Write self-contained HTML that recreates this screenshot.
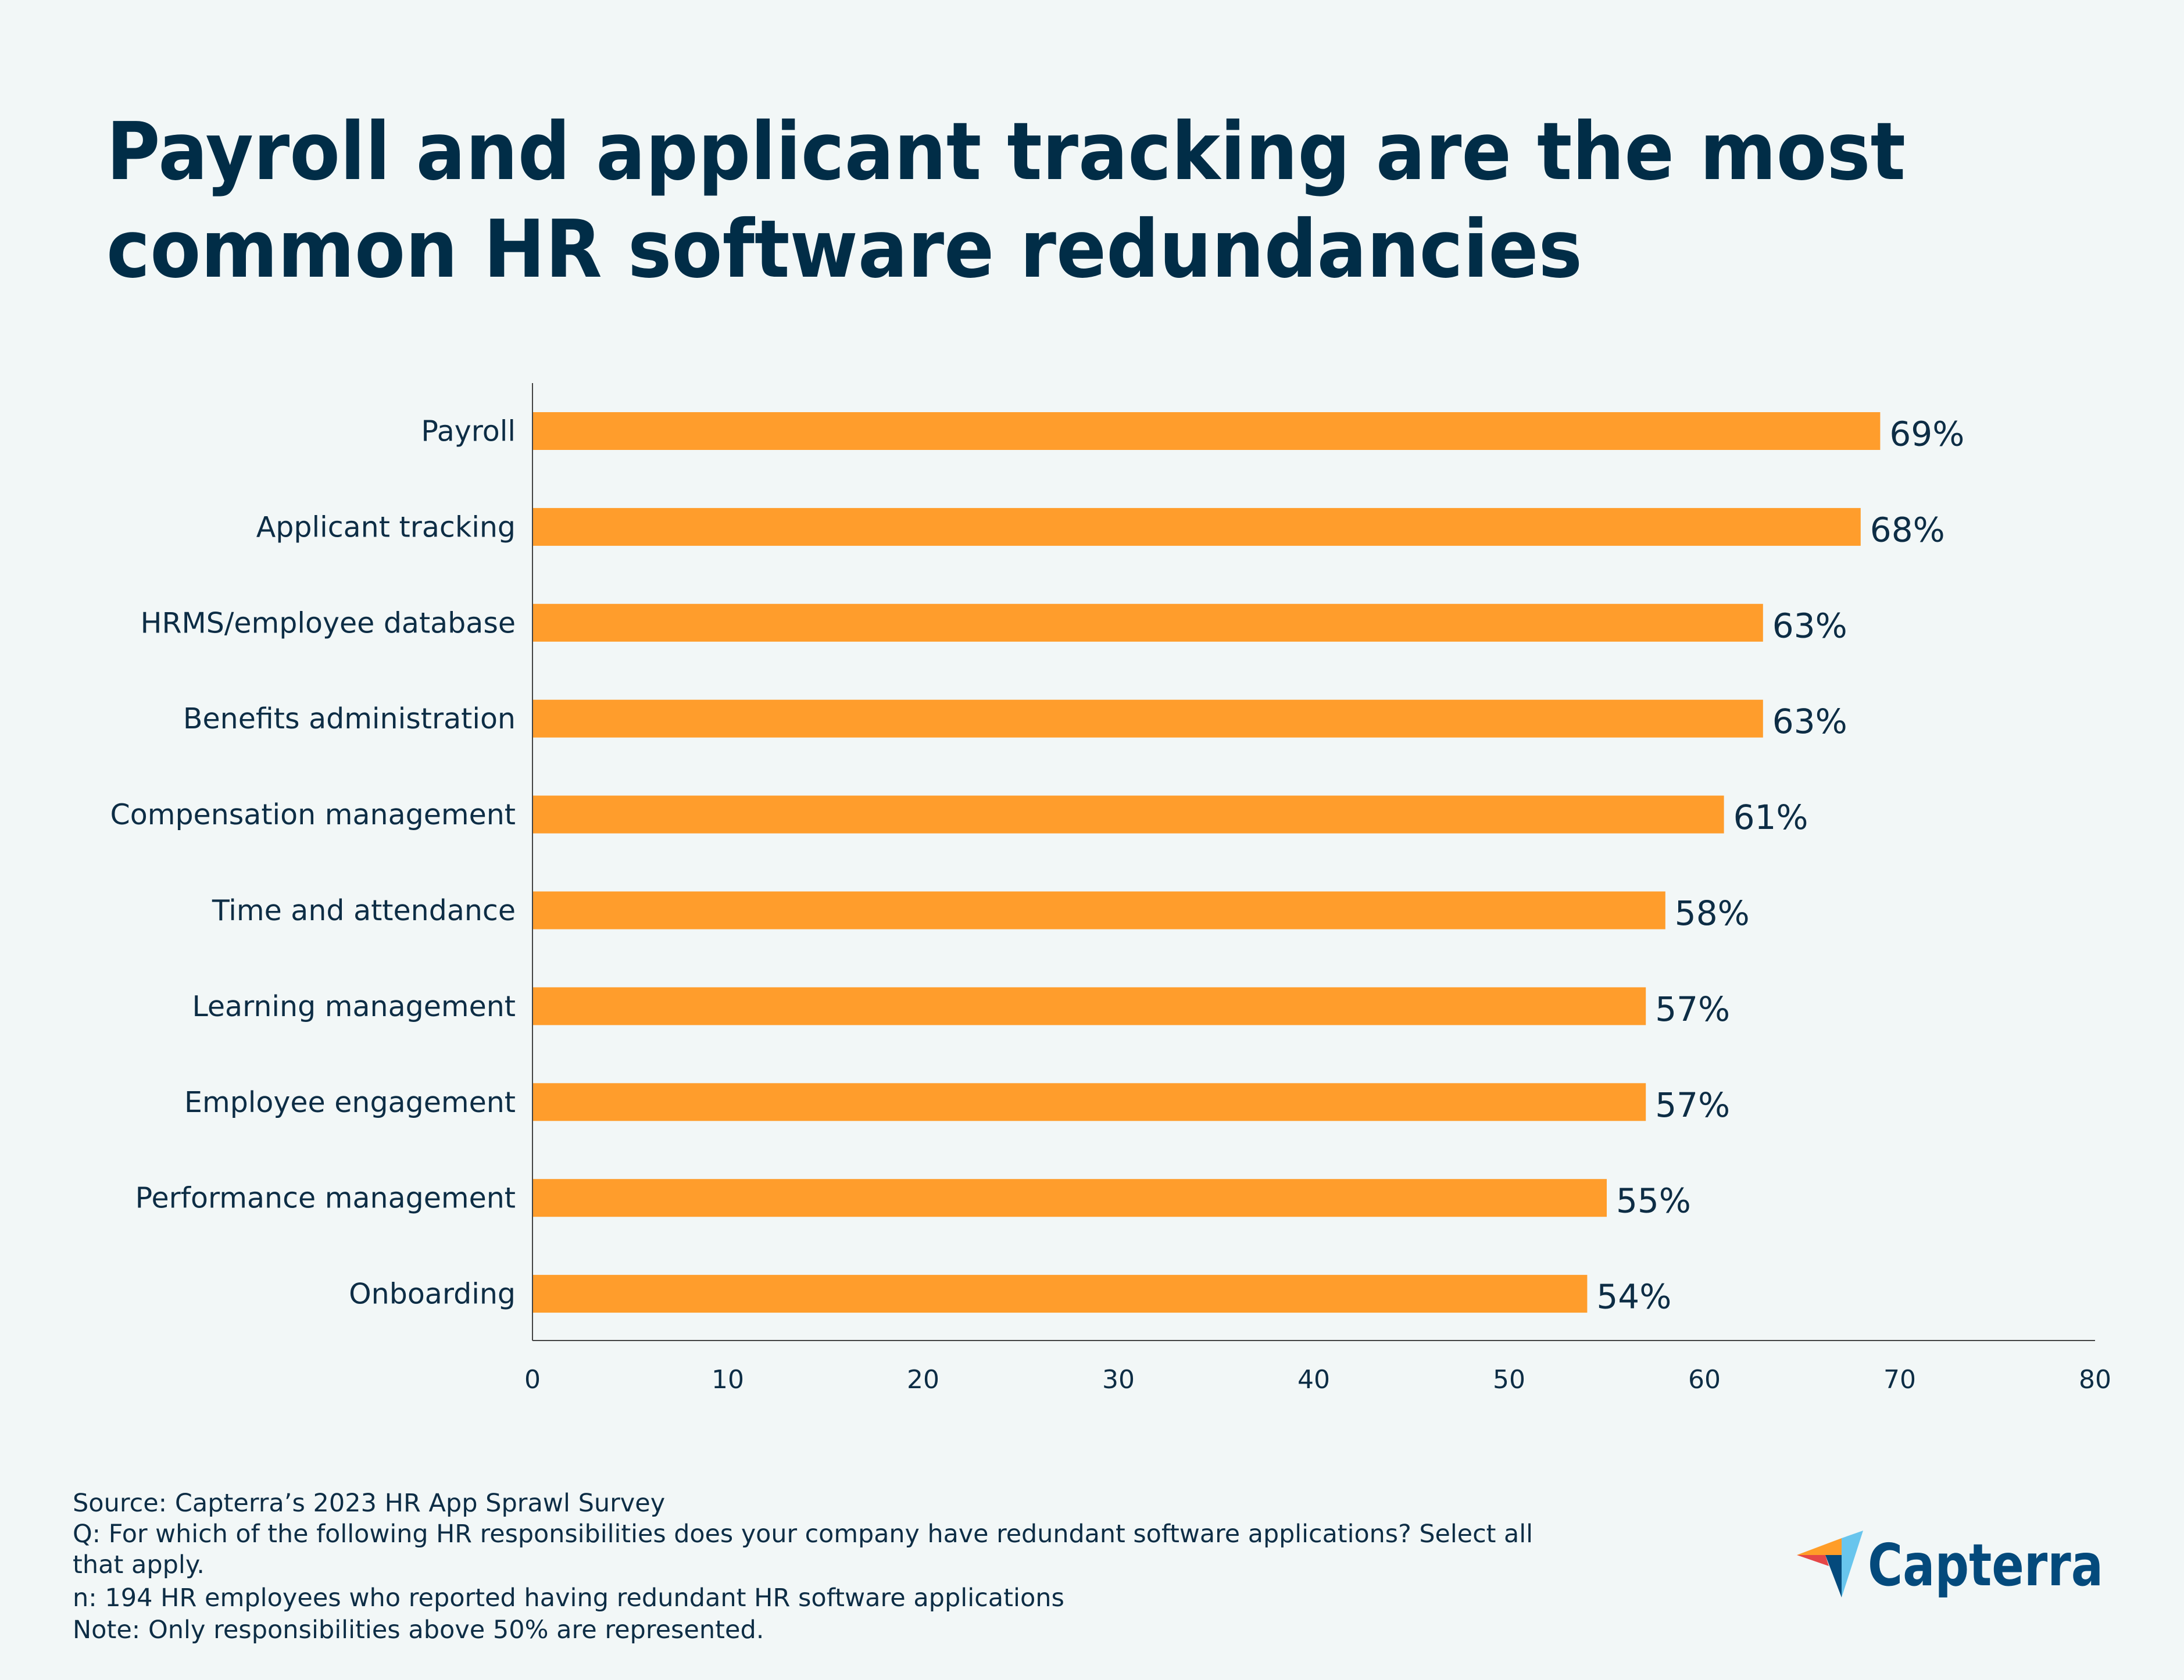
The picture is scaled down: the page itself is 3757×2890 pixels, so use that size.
<!DOCTYPE html>
<html><head><meta charset="utf-8"><style>
html,body{margin:0;padding:0;background:#f2f7f7;}
svg{display:block;}
</style></head><body>
<svg id="chart" width="3757" height="2890" viewBox="0 0 3757 2890" xmlns="http://www.w3.org/2000/svg">
<rect width="3757" height="2890" fill="#f2f7f7"/>
<text x="183" y="308" font-family="DejaVu Sans, sans-serif" font-weight="bold" font-size="137" fill="#012d47" textLength="3095" lengthAdjust="spacingAndGlyphs">Payroll and applicant tracking are the most</text>
<text x="183" y="476" font-family="DejaVu Sans, sans-serif" font-weight="bold" font-size="137" fill="#012d47" textLength="2539" lengthAdjust="spacingAndGlyphs">common HR software redundancies</text>
<g id="plot"></g>
<g font-family="DejaVu Sans, sans-serif" font-size="43" fill="#0d2d45">
<text x="125" y="2600">Source: Capterra’s 2023 HR App Sprawl Survey</text>
<text x="125" y="2653" textLength="2512" lengthAdjust="spacingAndGlyphs">Q: For which of the following HR responsibilities does your company have redundant software applications? Select all</text>
<text x="125" y="2706">that apply.</text>
<text x="125" y="2763">n: 194 HR employees who reported having redundant HR software applications</text>
<text x="125" y="2818">Note: Only responsibilities above 50% are represented.</text>
</g>
<g>
<polygon points="3091,2675 3168,2646 3168,2675" fill="#ff9d28"/>
<polygon points="3091,2675 3140,2675 3146,2694" fill="#e54747"/>
<polygon points="3140,2675 3168,2675 3168,2748" fill="#044a7c"/>
<polygon points="3168,2646 3205,2633 3168,2748" fill="#68c5ed"/>
<text x="3213" y="2727" font-family="DejaVu Sans, sans-serif" font-weight="bold" font-size="100" fill="#044a7c" textLength="405" lengthAdjust="spacingAndGlyphs">Capterra</text>
</g>
</svg>
<script>
const categories = ["Payroll","Applicant tracking","HRMS/employee database","Benefits administration","Compensation management","Time and attendance","Learning management","Employee engagement","Performance management","Onboarding"];
const values = [69,68,63,63,61,58,57,57,55,54];
const valueLabels = ["69%","68%","63%","63%","61%","58%","57%","57%","55%","54%"];
const xTicks = [0,10,20,30,40,50,60,70,80];

const NS = "http://www.w3.org/2000/svg";
const g = document.getElementById("plot");
const x0 = 916, x1 = 3604, xMax = 80;
const yTop = 659, yBottom = 2306, firstBar = 709, step = 164.9, barH = 65;
function xScale(v){ return x0 + (v / xMax) * (x1 - x0); }
function yScale(i){ return firstBar + i * step; }
function mk(tag, attrs, text){
  const el = document.createElementNS(NS, tag);
  for (const k in attrs) el.setAttribute(k, attrs[k]);
  if (text !== undefined) el.textContent = text;
  g.appendChild(el);
  return el;
}
categories.forEach((c, i) => {
  const y = yScale(i);
  const bar = mk("rect", {x: x0, y: y, width: xScale(values[i]) - x0, height: barH, fill: "#ff9d2c"});
  
  
  const lab = mk("text", {x: 887, y: y + barH/2 + 17, "text-anchor": "end", "font-family": "DejaVu Sans, sans-serif", "font-size": "49", fill: "#0d2d45"}, c);
  
  
  const vl = mk("text", {x: xScale(values[i]) + 16, y: y + barH/2 + 25, "font-family": "DejaVu Sans, sans-serif", "font-size": "58", fill: "#0d2d45"}, valueLabels[i]);
  
  
});
const yAxis = mk("line", {x1: x0, y1: yTop, x2: x0, y2: yBottom, stroke: "#444", "stroke-width": 2});


const xAxis = mk("line", {x1: x0, y1: yBottom, x2: x1, y2: yBottom, stroke: "#444", "stroke-width": 2});


xTicks.forEach(t => {
  const tl = mk("text", {x: xScale(t), y: 2388, "text-anchor": "middle", "font-family": "DejaVu Sans, sans-serif", "font-size": "44", fill: "#0d2d45"}, String(t));
  
  
});
</script>
</body></html>
